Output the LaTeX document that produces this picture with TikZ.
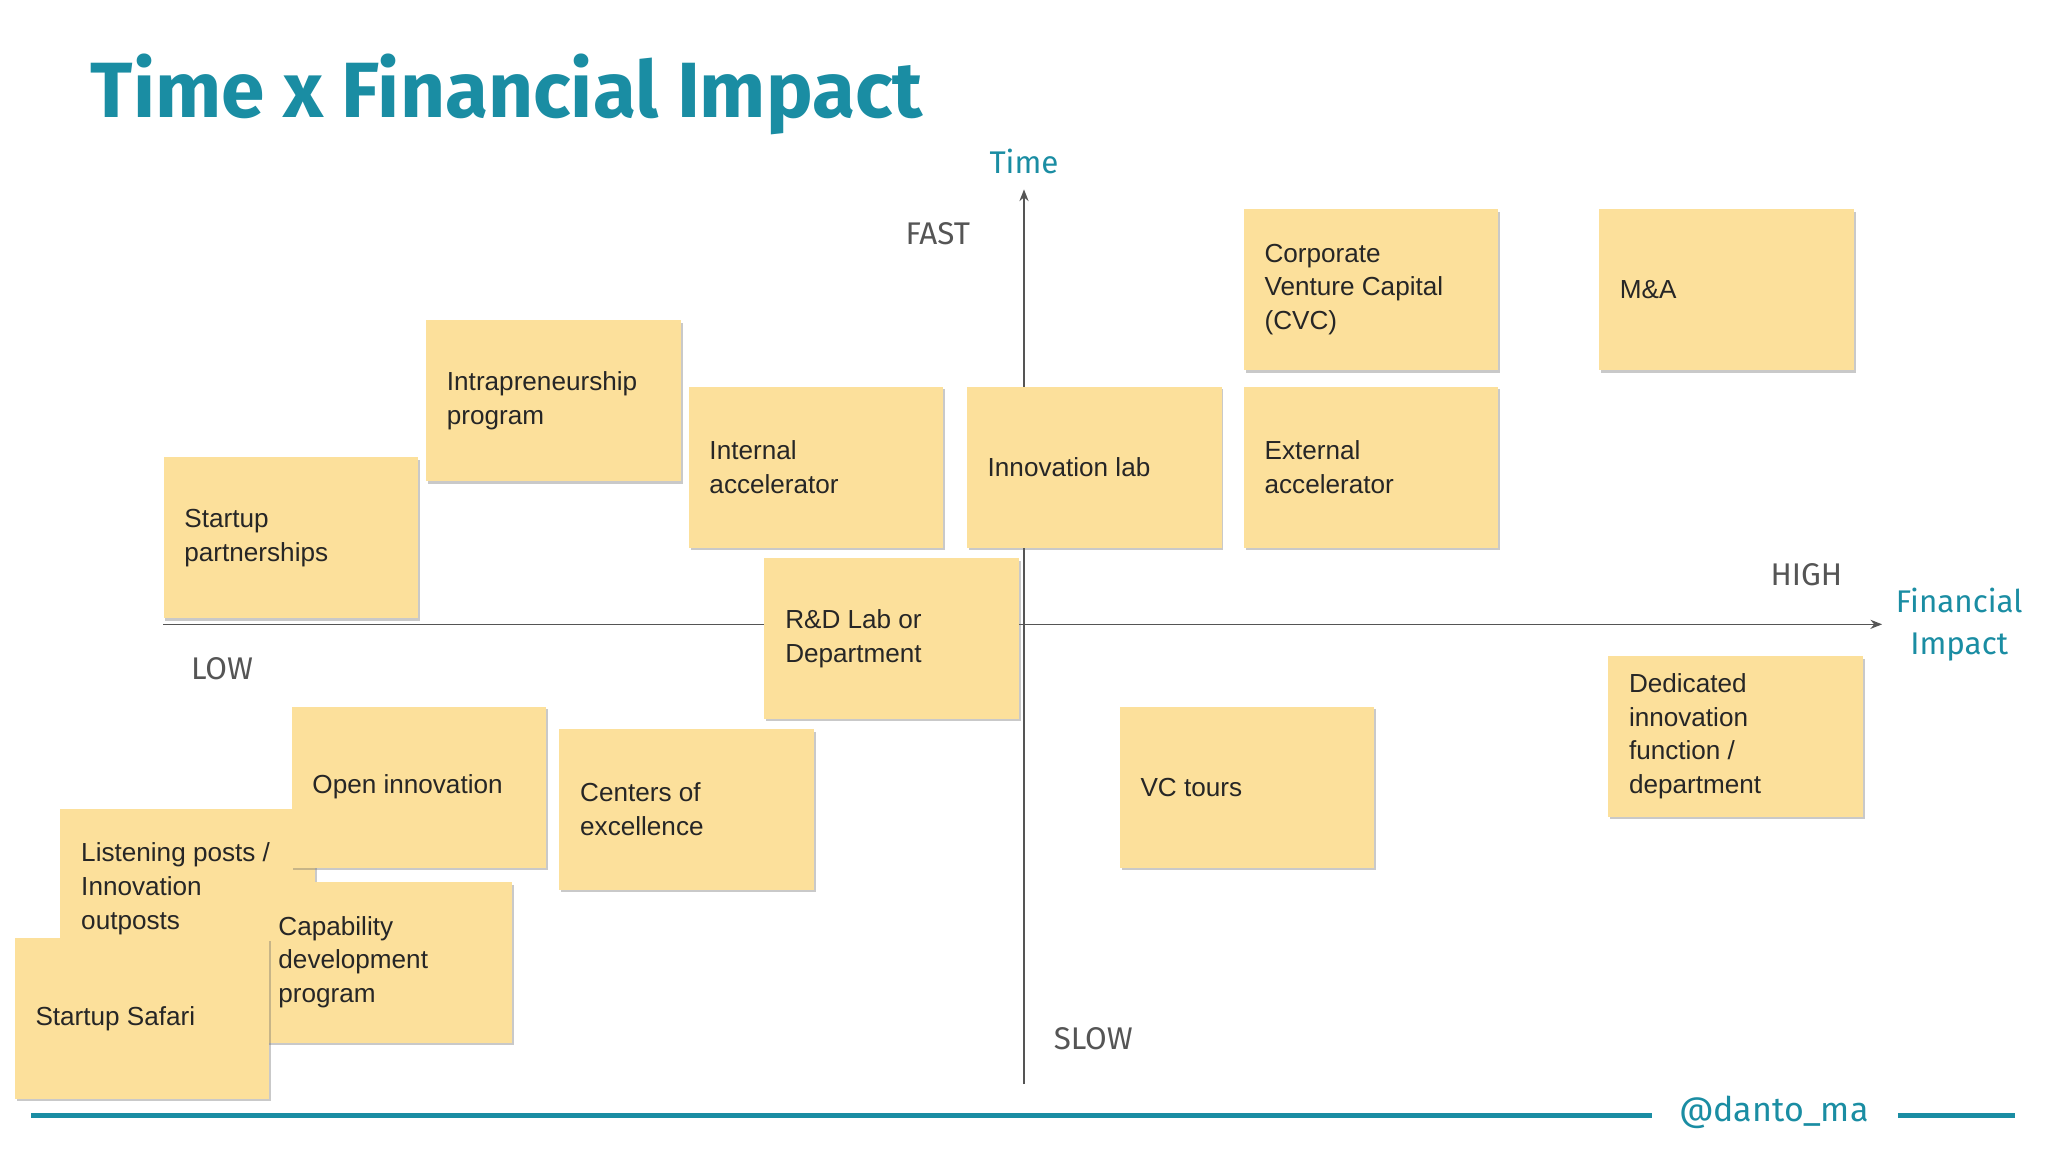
\documentclass[tikz,border=0pt]{standalone}
\usepackage{fontspec}
\setmainfont{Liberation Sans}
\newfontfamily\hand{Fira Sans}
\usetikzlibrary{shadows,arrows.meta}
\definecolor{sticky}{HTML}{FCE09B}
\definecolor{teal}{HTML}{1A8DA3}
\definecolor{axisgray}{HTML}{555555}
\tikzset{
 note/.style={fill=sticky,draw=none,minimum width=195pt,minimum height=123pt,anchor=north west,
   drop shadow={shadow xshift=1.5pt,shadow yshift=-2pt,opacity=0.35,fill=black!60}},
 notetext/.style={anchor=west,align=left,font=\fontsize{20}{26}\selectfont,text=black!85,inner sep=0pt},
 axislbl/.style={font=\hand\fontsize{24}{26}\selectfont,text=axisgray},
 teallbl/.style={font=\hand\fontsize{24}{32}\selectfont,text=teal,align=center},
 axis/.style={draw=axisgray,line width=1.2pt,-{Stealth[length=9pt,width=7pt]}}
}
\newcommand{\stk}[4]{%
 \node[note] (#1) at (#2,#3) {};
 \node[notetext] (#1t) at ([xshift=16pt]#1.west) {#4};}
\begin{document}
\begin{tikzpicture}[x=1pt,y=-1pt]
\useasboundingbox[fill=white] (0,0) rectangle (1568,882);
\node[font=\hand\bfseries\fontsize{60}{60}\selectfont,text=teal,anchor=west] (title) at (66,72) {Time x Financial Impact};
\coordinate (xs) at (125,478); \coordinate (xe) at (1441,478);
\coordinate (ys) at (784,830); \coordinate (ye) at (784,145);
\draw[axis] (xs) -- (xe);
\draw[axis] (ys) -- (ye);
\node[teallbl] (tl) at (784,124) {Time};
\node[teallbl] (fl) at (1500,478) {Financial\\Impact};
\node[axislbl] (fast) at (718,179) {FAST};
\node[axislbl] (high) at (1383,440) {HIGH};
\node[axislbl] (low) at (170,512) {LOW};
\node[axislbl] (slow) at (837,795) {SLOW};
\stk{cvc}{952}{160}{Corporate\\Venture Capital\\(CVC)}
\stk{ma}{1224}{160}{M\&A}
\stk{intra}{326}{245}{Intrapreneurship\\program}
\stk{inta}{527}{296}{Internal\\accelerator}
\stk{ilab}{740}{296}{Innovation lab}
\stk{exta}{952}{296}{External\\accelerator}
\stk{sp}{125}{350}{Startup\\partnerships}
\stk{rd}{585}{427}{R\&D Lab or\\Department}
\stk{ded}{1231}{502}{Dedicated\\innovation\\function /\\department}
\stk{centers}{428}{558}{Centers of\\excellence}
\stk{vc}{857}{541}{VC tours}
\stk{lp}{46}{619}{Listening posts /\\Innovation\\outposts}
\stk{oi}{223}{541}{Open innovation}
\stk{cap}{197}{675}{Capability\\development\\program}
\stk{ss}{11}{718}{Startup Safari}
\coordinate (b1) at (24,854); \coordinate (b2) at (1265,854);
\coordinate (b3) at (1453,854); \coordinate (b4) at (1543,854);
\draw[teal,line width=4pt] (b1) -- (b2);
\draw[teal,line width=4pt] (b3) -- (b4);
\node[font=\hand\fontsize{26}{28}\selectfont,text=teal] (handle) at (1358,852) {@danto\_ma};
\end{tikzpicture}
\end{document}
